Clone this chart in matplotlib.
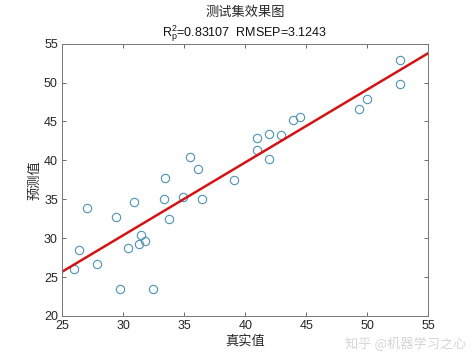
import numpy as np
import matplotlib
matplotlib.use("Agg")
from matplotlib import pyplot as plt

# 测试集: 真实值 vs 预测值
actual = [25.98, 26.39, 27.05, 27.84, 29.45, 29.72, 30.41, 30.92, 31.31, 31.47,
          31.77, 32.43, 33.35, 33.46, 33.76, 34.94, 35.51, 36.16, 36.44, 39.09,
          41.0, 41.0, 41.98, 41.98, 42.93, 43.94, 44.49, 49.3, 49.95, 52.68, 52.68]
predicted = [26.06, 28.5, 33.85, 26.67, 32.78, 23.42, 28.68, 34.7, 29.19, 30.42,
             29.65, 23.46, 35.09, 37.78, 32.47, 35.35, 40.42, 38.94, 35.09, 37.53,
             42.9, 41.28, 43.33, 40.13, 43.2, 45.13, 45.6, 46.6, 47.86, 52.9, 49.87]
# fitted line end points
fit_x = [25, 55]
fit_y = [25.68, 53.8]

r2 = 0.83107
rmsep = 3.1243

plt.rcParams['font.family'] = ['Liberation Sans', 'Noto Sans CJK SC', 'DejaVu Sans']
plt.rcParams['mathtext.fontset'] = 'custom'
plt.rcParams['mathtext.rm'] = 'Liberation Sans'
plt.rcParams['mathtext.it'] = 'Liberation Sans'

fig = plt.figure(figsize=(4.74, 3.55), dpi=100)
ax = fig.add_axes([0.1308, 0.1099, 0.7732, 0.7671])

ax.plot(actual, predicted, linestyle='none', marker='o', markersize=6,
        markerfacecolor='none', markeredgecolor='#4d93b3', markeredgewidth=0.8)
ax.plot(fit_x, fit_y, color='#d41414', linewidth=1.8)

ax.set_xlim(25, 55)
ax.set_ylim(20, 55)
ax.set_xticks(range(25, 56, 5))
ax.set_yticks(range(20, 56, 5))
ax.tick_params(direction='in', top=True, right=True, length=3, width=0.6,
               color='#555555', labelsize=9, labelcolor='#262626', pad=3)
for s in ax.spines.values():
    s.set_color('#777777')
    s.set_linewidth(0.7)

ax.set_xlabel('真实值', family=['Noto Sans CJK SC'], fontsize=9.5, color='#262626', labelpad=2)
ax.set_ylabel('预测值', family=['Noto Sans CJK SC'], fontsize=9.5, color='#262626', labelpad=2)

fig.text(0.517, 0.965, '测试集效果图', family=['Noto Sans CJK SC'], fontsize=9.5,
         ha='center', va='center', color='#262626')
fig.text(0.517, 0.905, r'$\mathregular{R_p^2}$=%.5f  RMSEP=%.4f' % (r2, rmsep),
         fontsize=9, ha='center', va='center', color='#111111')

# watermark
fig.text(0.985, 0.03, '知乎 @机器学习之心', family=['Noto Sans CJK SC'], fontsize=9.5,
         ha='right', va='center', color='#cccccc', alpha=0.8)

fig.savefig('out.png', dpi=100)
